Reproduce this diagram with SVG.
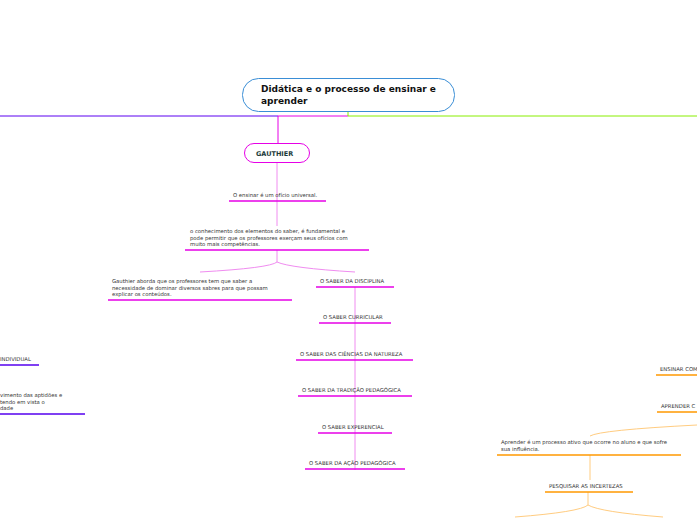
<svg xmlns="http://www.w3.org/2000/svg" width="697" height="520" viewBox="0 0 697 520">
<style>
text{font-family:"DejaVu Sans",sans-serif;font-size:5.3px;fill:#333}
.p{stroke:#e600e6;stroke-width:1.5}
.pl{stroke:#f08cf0;stroke-width:1;fill:none}
.o{stroke:#ff9900;stroke-width:1.5}
.ol{stroke:#ffcc80;stroke-width:1;fill:none}
.b{stroke:#5500ee;stroke-width:1.5}
</style>
<g id="connectors">
<line x1="0" y1="116" x2="278" y2="116" stroke="#5a00f0" stroke-width="1"/>
<line x1="278" y1="116" x2="348" y2="116" stroke="#e600e6" stroke-width="1"/>
<line x1="348" y1="116" x2="697" y2="116" stroke="#88ee00" stroke-width="1"/>
<line x1="348" y1="111" x2="348" y2="116" stroke="#88ee00" stroke-width="1"/>
<line x1="278" y1="116" x2="278" y2="144" stroke="#e600e6" stroke-width="1"/>
<path class="pl" d="M277 163V201M277 201V226M277 250V262Q270 268 200 272M277 262Q290 268 355 272M355 287V470"/>
<path class="ol" d="M697 425Q600 430 590 436M590 455V480M588 492V505Q580 512 515 517M588 505Q600 512 663 517"/>
</g>
<g id="root">
<rect x="242.5" y="78.5" width="212" height="33" rx="16" fill="#fff" stroke="#3a8ed6" stroke-width="1"/>
<text x="261" y="92" style="font-size:9px;font-weight:bold;fill:#111">Didática e o processo de ensinar e</text>
<text x="261" y="103.5" style="font-size:9px;font-weight:bold;fill:#111">aprender</text>
</g>
<g id="gauthier">
<rect x="244.5" y="143.5" width="65" height="19" rx="9.5" fill="#fff" stroke="#e600e6" stroke-width="1"/>
<text x="256" y="156" style="font-size:6.5px;font-weight:bold;fill:#1a3a3a">GAUTHIER</text>
</g>
<g id="n1"><text x="233" y="197">O ensinar é um ofício universal.</text><line class="p" x1="229" y1="201" x2="326" y2="201"/></g>
<g id="n2"><text x="190" y="233">o conhecimento dos elementos do saber, é fundamental e</text><text x="190" y="240">pode permitir que os professores exerçam seus ofícios com</text><text x="190" y="246">muito mais competências.</text><line class="p" x1="185" y1="250" x2="369" y2="250"/></g>
<g id="n3"><text x="112" y="283">Gauthier aborda que os professores tem que saber a</text><text x="112" y="290">necessidade de dominar diversos sabres para que possam</text><text x="112" y="296">explicar os conteúdos.</text><line class="p" x1="108" y1="300" x2="292" y2="300"/></g>
<g id="s1"><text x="320" y="283">O SABER DA DISCIPLINA</text><line class="p" x1="316" y1="287" x2="394" y2="287"/></g>
<g id="s2"><text x="323" y="319">O SABER CURRICULAR</text><line class="p" x1="319" y1="323" x2="391" y2="323"/></g>
<g id="s3"><text x="300" y="356">O SABER DAS CIÊNCIAS DA NATUREZA</text><line class="p" x1="296" y1="360" x2="413" y2="360"/></g>
<g id="s4"><text x="302" y="392">O SABER DA TRADIÇÃO PEDAGÓGICA</text><line class="p" x1="298" y1="396" x2="412" y2="396"/></g>
<g id="s5"><text x="322" y="429">O SABER EXPERENCIAL</text><line class="p" x1="318" y1="433" x2="392" y2="433"/></g>
<g id="s6"><text x="309" y="465">O SABER DA AÇÃO PEDAGÓGICA</text><line class="p" x1="305" y1="469" x2="405" y2="469"/></g>
<g id="l1"><text x="0" y="361">INDIVIDUAL</text><line class="b" x1="0" y1="365" x2="39" y2="365"/></g>
<g id="l2"><text x="0" y="397">vimento das aptidões e</text><text x="0" y="404">tendo em vista o</text><text x="0" y="410">dade</text><line class="b" x1="0" y1="414" x2="85" y2="414"/></g>
<g id="r1"><text x="660" y="371">ENSINAR COM</text><line class="o" x1="656" y1="375" x2="697" y2="375"/></g>
<g id="r2"><text x="661" y="408">APRENDER C</text><line class="o" x1="657" y1="412" x2="697" y2="412"/></g>
<g id="r3"><text x="501" y="444">Aprender é um processo ativo que ocorre no aluno e que sofre</text><text x="501" y="451">sua influência.</text><line class="o" x1="497" y1="455" x2="681" y2="455"/></g>
<g id="r4"><text x="549" y="488">PESQUISAR AS INCERTEZAS</text><line class="o" x1="545" y1="492" x2="633" y2="492"/></g>
</svg>
